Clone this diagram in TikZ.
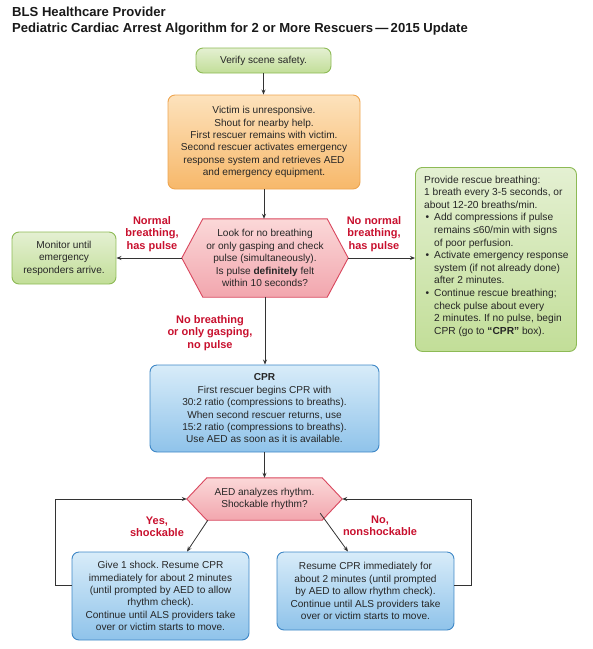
\documentclass[tikz,border=0pt]{standalone}
\usepackage{fontspec}
\setmainfont{Liberation Sans}
\usetikzlibrary{arrows.meta,backgrounds}
\definecolor{grB}{HTML}{8DBA55}
\definecolor{grT}{HTML}{E4F0D2}
\definecolor{grD}{HTML}{C2DE98}
\definecolor{orB}{HTML}{EEA550}
\definecolor{orT}{HTML}{FDE2BC}
\definecolor{orD}{HTML}{F7B86A}
\definecolor{pkB}{HTML}{D9475E}
\definecolor{pkT}{HTML}{FBD8D8}
\definecolor{pkD}{HTML}{F2A6AE}
\definecolor{blB}{HTML}{3E87C6}
\definecolor{blT}{HTML}{D8ECF9}
\definecolor{blD}{HTML}{8FC3EA}
\definecolor{redlab}{HTML}{C8102E}
\definecolor{lineC}{HTML}{333333}
\tikzset{
  body/.style={font=\fontsize{10.1}{12.4}\selectfont\frenchspacing, text=black!85, align=center, inner sep=0pt},
  gbox/.style={body, draw=grB, line width=0.9pt, rounded corners=7pt, top color=grT, bottom color=grD},
  obox/.style={body, draw=orB, line width=0.9pt, rounded corners=7pt, top color=orT, bottom color=orD},
  bbox/.style={body, draw=blB, line width=0.9pt, rounded corners=7pt, top color=blT, bottom color=blD},
  hexin/.style={body},
  hexout/.style={draw=pkB, line width=0.9pt, top color=pkT, bottom color=pkD},
  lab/.style={font=\fontsize{11}{12.5}\selectfont\bfseries, text=redlab, align=center, inner sep=0pt},
  arr/.style={draw=lineC, line width=0.8pt, -{Stealth[length=5pt,width=4pt]}},
  ttl/.style={font=\fontsize{13.1}{15}\selectfont\bfseries, text=black!90, anchor=west, inner sep=0pt}
}
\begin{document}
\frenchspacing
\begin{tikzpicture}[x=1pt,y=-1pt]
\useasboundingbox (0,0) rectangle (593,649);
\node[ttl] (t1) at (12,12) {BLS Healthcare Provider};
\node[ttl] (t2) at (12,29.5) {Pediatric Cardiac Arrest Algorithm for 2 or More Rescuers\,—\,2015 Update};

\node[gbox, minimum width=135pt, minimum height=25pt] (scene) at (263.5,60.5) {Verify scene safety.};
\node[obox, minimum width=192pt, minimum height=94pt] (unresp) at (264,142) {Victim is unresponsive.\\Shout for nearby help.\\First rescuer remains with victim.\\Second rescuer activates emergency\\response system and retrieves AED\\and emergency equipment.};

\node[hexin, minimum width=166pt, minimum height=78pt] (look) at (265,258) {Look for no breathing\\or only gasping and check\\pulse (simultaneously).\\Is pulse \textbf{definitely} felt\\within 10 seconds?};
\begin{scope}[on background layer]
\path[hexout] (look.west) -- ([xshift=21pt]look.north west) -- ([xshift=-21pt]look.north east) -- (look.east) -- ([xshift=-21pt]look.south east) -- ([xshift=21pt]look.south west) -- cycle;
\end{scope}

\node[gbox, minimum width=104pt, minimum height=52pt] (monitor) at (64,258) {Monitor until\\emergency\\responders arrive.};

\node[gbox, minimum width=161pt, minimum height=184pt, align=left, anchor=north west] (rescue) at (415,167) {};
\node[body, align=left, anchor=north west, font=\fontsize{10.2}{12.6}\selectfont\frenchspacing] (rescuetxt) at (424,175.5) {Provide rescue breathing:\\1 breath every 3-5 seconds, or\\about 12-20 breaths/min.\\
\hspace*{1.5pt}\makebox[8.5pt][l]{•}Add compressions if pulse\\\hspace*{10pt}remains ≤60/min with signs\\\hspace*{10pt}of poor perfusion.\\
\hspace*{1.5pt}\makebox[8.5pt][l]{•}Activate emergency response\\\hspace*{10pt}system (if not already done)\\\hspace*{10pt}after 2 minutes.\\
\hspace*{1.5pt}\makebox[8.5pt][l]{•}Continue rescue breathing;\\\hspace*{10pt}check pulse about every\\\hspace*{10pt}2 minutes. If no pulse, begin\\\hspace*{10pt}CPR (go to \textbf{“CPR”} box).};

\node[bbox, minimum width=229pt, minimum height=87pt] (cpr) at (264.5,408.5) {\textbf{CPR}\\First rescuer begins CPR with\\30:2 ratio (compressions to breaths).\\When second rescuer returns, use\\15:2 ratio (compressions to breaths).\\Use AED as soon as it is available.};

\node[hexin, minimum width=155pt, minimum height=42pt] (aed) at (264.5,499) {AED analyzes rhythm.\\Shockable rhythm?};
\begin{scope}[on background layer]
\path[hexout] (aed.west) -- ([xshift=20pt]aed.north west) -- ([xshift=-20pt]aed.north east) -- (aed.east) -- ([xshift=-20pt]aed.south east) -- ([xshift=20pt]aed.south west) -- cycle;
\end{scope}

\node[bbox, minimum width=177pt, minimum height=88pt] (shock) at (160.5,596) {Give 1 shock. Resume CPR\\immediately for about 2 minutes\\(until prompted by AED to allow\\rhythm check).\\Continue until ALS providers take\\over or victim starts to move.};
\node[bbox, minimum width=177pt, minimum height=78pt] (noshock) at (365.5,591) {Resume CPR immediately for\\about 2 minutes (until prompted\\by AED to allow rhythm check).\\Continue until ALS providers take\\over or victim starts to move.};

% labels
\node[lab] (l1) at (152,234) {Normal\\breathing,\\has pulse};
\node[lab] (l2) at (374,234) {No normal\\breathing,\\has pulse};
\node[lab] (l3) at (210,333) {No breathing\\or only gasping,\\no pulse};
\node[lab] (l4) at (157,527) {Yes,\\shockable};
\node[lab] (l5) at (380,526) {No,\\nonshockable};

% connectors
\draw[arr] (scene.south) -- (scene.south |- unresp.north);
\draw[arr] (unresp.south) -- (unresp.south |- look.north);
\draw[arr] (look.west) -- (monitor.east);
\draw[arr] (look.east) -- (rescue.west |- look.east);
\draw[arr] (look.south) -- (look.south |- cpr.north);
\draw[arr] (cpr.south) -- (cpr.south |- aed.north);
\draw[arr] ([xshift=21pt]aed.south west) -- ([xshift=26.5pt]shock.north);
\draw[arr] ([xshift=-22pt,yshift=7pt]aed.south east) -- ([xshift=-17.5pt]noshock.north);
\draw[arr] ([yshift=11pt]shock.west) -- ++(-16,0) |- (aed.west);
\draw[arr] ([yshift=6pt]noshock.east) -- ++(17,0) |- (aed.east);
\end{tikzpicture}
\end{document}
